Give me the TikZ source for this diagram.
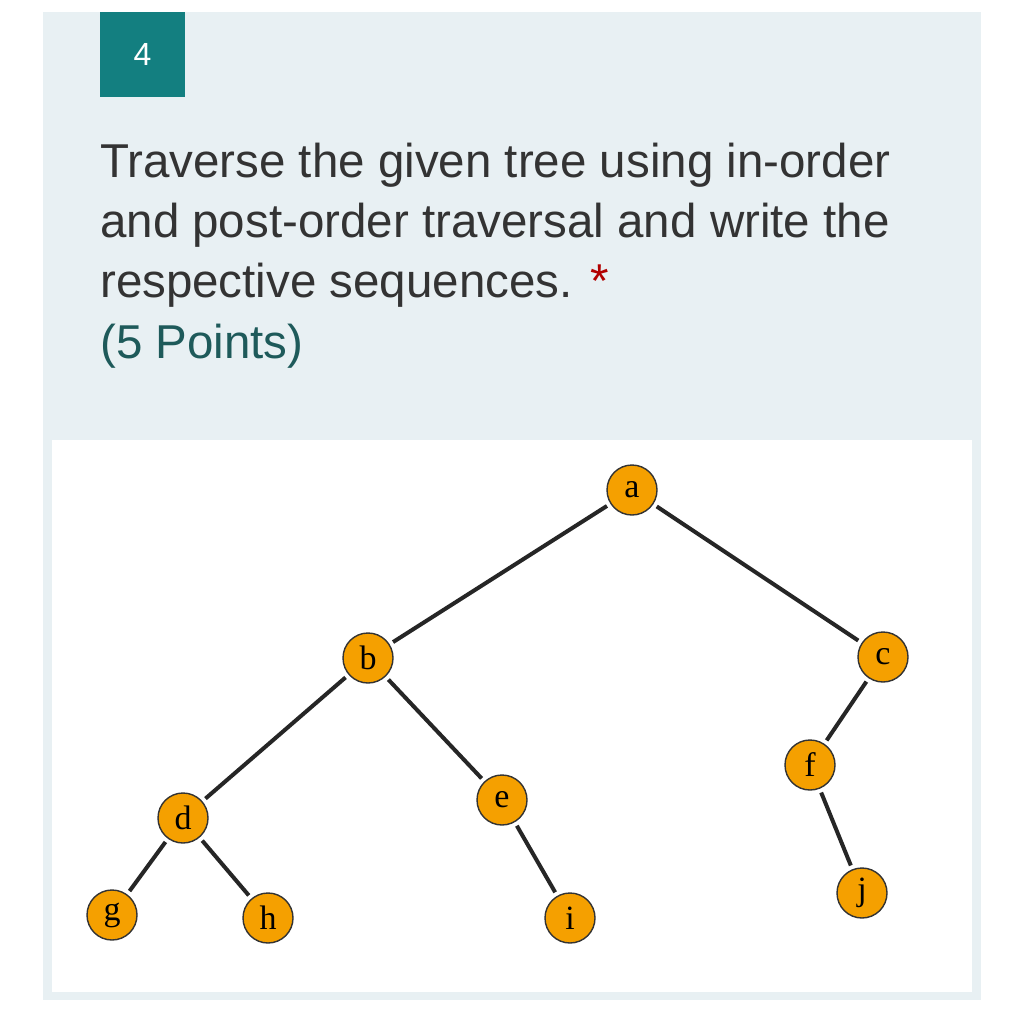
\documentclass[tikz,border=0pt]{standalone}
\usepackage{fontspec}
\setmainfont{Liberation Sans}
\newfontfamily\serifx{Liberation Serif}
\definecolor{panel}{HTML}{E8F0F3}
\definecolor{teal4}{HTML}{137F80}
\definecolor{txt}{HTML}{333333}
\definecolor{pts}{HTML}{1E5A5A}
\definecolor{orng}{HTML}{F5A000}
\tikzset{tn/.style={circle,draw=black!80,line width=1.4pt,fill=orng,minimum size=50pt,inner sep=0pt,font=\serifx\fontsize{34}{34}\selectfont},
ed/.style={line width=4pt,black!85,shorten <=4pt,shorten >=4pt},
qt/.style={anchor=base west,inner sep=0pt,text=txt,font=\fontsize{47.5}{47.5}\selectfont}}
\begin{document}
\begin{tikzpicture}[x=1pt,y=-1pt]
\useasboundingbox (0,0) rectangle (1024,1020);
\fill[white] (0,0) rectangle (1024,1020);
\fill[panel] (43,12) rectangle (981,1000);
\fill[teal4] (100,12) rectangle (185,97);
\node[text=white,font=\fontsize{32}{32}\selectfont] (num) at (142.5,54) {4};
\node[qt] (l1) at (100,177) {Traverse the given tree using in-order};
\node[qt] (l2) at (100,237) {and post-order traversal and write the};
\node[qt] (l3) at (100,297) {respective sequences. \textcolor{red!70!black}{*}};
\node[qt,text=pts] (l4) at (100,358) {(5 Points)};
\fill[white] (52,440) rectangle (972,992);
\node[tn] (a) at (632,490) {a};
\node[tn] (b) at (368,658) {b};
\node[tn] (c) at (883,657) {c};
\node[tn] (d) at (183,818) {d};
\node[tn] (e) at (502,800) {e};
\node[tn] (f) at (810,765) {f};
\node[tn] (g) at (112,915) {g};
\node[tn] (h) at (268,918) {h};
\node[tn] (i) at (570,918) {i};
\node[tn] (j) at (862,893) {j};
\draw[ed] (a) -- (b); \draw[ed] (a) -- (c);
\draw[ed] (b) -- (d); \draw[ed] (b) -- (e);
\draw[ed] (c) -- (f); \draw[ed] (f) -- (j);
\draw[ed] (d) -- (g); \draw[ed] (d) -- (h);
\draw[ed] (e) -- (i);
\end{tikzpicture}
\end{document}
